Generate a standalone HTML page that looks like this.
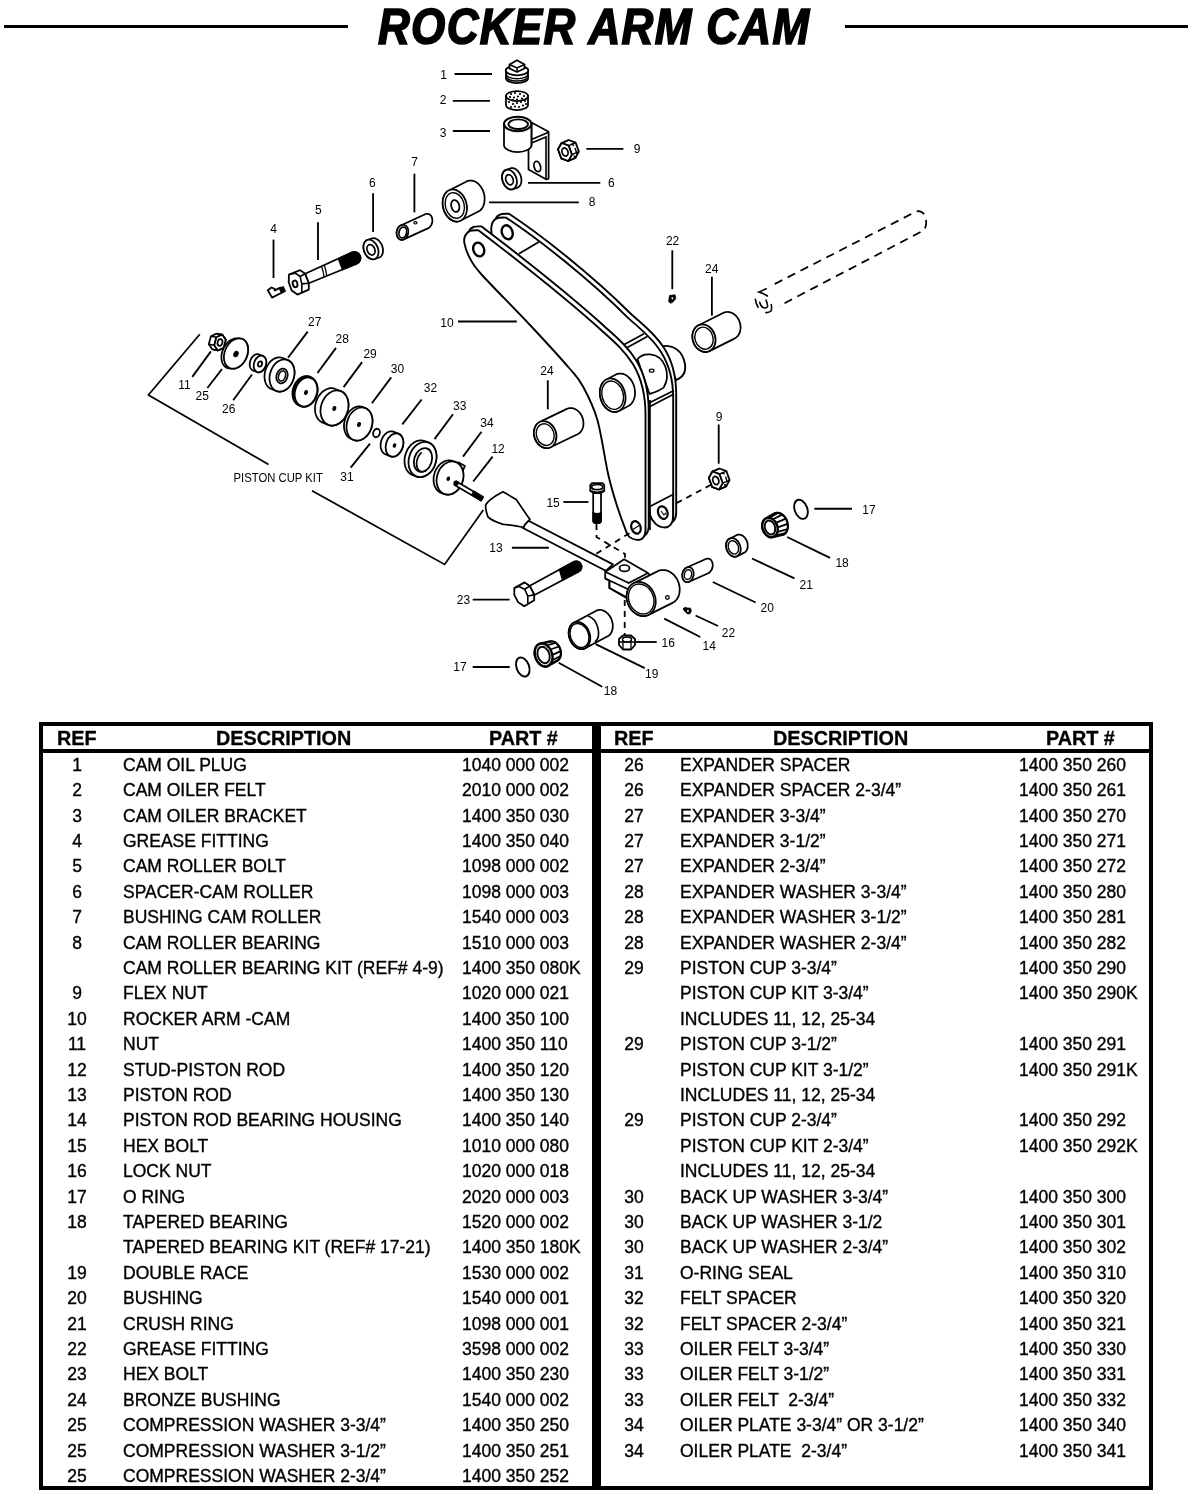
<!DOCTYPE html>
<html><head><meta charset="utf-8"><style>
html,body{margin:0;padding:0;background:#fff;}
body{will-change:transform;}
body{width:1194px;height:1500px;position:relative;overflow:hidden;font-family:"Liberation Sans",sans-serif;color:#000;}
.title{position:absolute;left:0;top:0;width:1194px;height:60px;}
.tl{position:absolute;height:3px;background:#000;top:25px;}
.tt{position:absolute;top:-2.5px;left:378px;font-weight:bold;font-style:italic;font-size:50px;white-space:nowrap;transform:scaleX(0.88);transform-origin:0 0;-webkit-text-stroke:1.7px #000;letter-spacing:1.5px;}
.box{position:absolute;left:39px;top:722px;width:1106px;height:760px;border:4px solid #000;}
.hl{position:absolute;left:39px;top:749px;width:1114px;height:4px;background:#000;}
.vl{position:absolute;left:591.7px;top:722px;width:9px;height:768px;background:#000;}
.h{position:absolute;top:726.5px;font-weight:bold;font-size:19.8px;white-space:nowrap;-webkit-text-stroke:0.3px #000;}
.r{position:absolute;left:0;height:25px;width:1194px;}
.r span{position:absolute;top:0;font-size:17.5px;white-space:nowrap;-webkit-text-stroke:0.35px #000;}
.ref{width:40px;margin-left:-20px;text-align:center;}
svg.dg{position:absolute;left:0;top:0;}
</style></head><body>
<div class="title">
<div class="tl" style="left:4px;width:344px"></div>
<div class="tl" style="left:845px;width:343px"></div>
<div class="tt">ROCKER ARM CAM</div>
</div>
<svg class="dg" width="1194" height="720" viewBox="0 0 1194 720" font-family="Liberation Sans, sans-serif" fill="#000">
<path d="M506,71 L506,78.5 A11,4.5 0 0 0 528,78.5 L528,71 Z" fill="#fff" stroke="#000" stroke-width="1.75"/>
<path d="M506,74.2 A11,4.5 0 0 0 528,74.2 M506,76.6 A11,4.5 0 0 0 528,76.6" fill="none" stroke="#000" stroke-width="1.5"/>
<ellipse cx="517.0" cy="70.5" rx="11.3" ry="4.8" fill="#fff" stroke="#000" stroke-width="1.75"/>
<path d="M509.5,64.5 L517,60.2 L524.5,64.5 L524.5,68.5 L517,72 L509.5,68.5 Z" fill="#fff" stroke="#000" stroke-width="1.8" stroke-linejoin="round"/>
<path d="M509.5,64.5 L517,68 L524.5,64.5 M517,68 L517,72" fill="none" stroke="#000" stroke-width="1.5"/>
<path d="M506,96 L506,105 A11,5 0 0 0 528,105 L528,96 Z" fill="#fff" stroke="#000" stroke-width="1.75"/>
<ellipse cx="517.0" cy="96.0" rx="11.0" ry="5.0" fill="#fff" stroke="#000" stroke-width="1.75"/>
<circle cx="511.0" cy="94.0" r="1.1" fill="#000"/>
<circle cx="515.0" cy="93.0" r="1.1" fill="#000"/>
<circle cx="520.0" cy="94.0" r="1.1" fill="#000"/>
<circle cx="524.0" cy="96.0" r="1.1" fill="#000"/>
<circle cx="510.0" cy="97.0" r="1.1" fill="#000"/>
<circle cx="514.0" cy="97.5" r="1.1" fill="#000"/>
<circle cx="518.0" cy="96.5" r="1.1" fill="#000"/>
<circle cx="522.0" cy="98.5" r="1.1" fill="#000"/>
<circle cx="513.0" cy="100.0" r="1.1" fill="#000"/>
<circle cx="517.0" cy="99.5" r="1.1" fill="#000"/>
<circle cx="509.0" cy="102.0" r="1.1" fill="#000"/>
<circle cx="513.0" cy="104.0" r="1.1" fill="#000"/>
<circle cx="517.0" cy="103.0" r="1.1" fill="#000"/>
<circle cx="521.0" cy="102.0" r="1.1" fill="#000"/>
<circle cx="525.0" cy="101.0" r="1.1" fill="#000"/>
<circle cx="511.0" cy="107.0" r="1.1" fill="#000"/>
<circle cx="515.0" cy="106.5" r="1.1" fill="#000"/>
<circle cx="519.0" cy="107.0" r="1.1" fill="#000"/>
<circle cx="523.0" cy="105.5" r="1.1" fill="#000"/>
<circle cx="526.0" cy="104.0" r="1.1" fill="#000"/>
<path d="M531.5,122.6 L548.6,131.8 L548.6,178.7 L546.5,179.5 L528.5,169.5 L528.5,149 L531.5,146 Z" fill="#fff" stroke="#000" stroke-width="1.75" stroke-linejoin="round"/>
<path d="M531.5,139.5 L548,132.5 M531.5,143 L546,137 L546,179" fill="none" stroke="#000" stroke-width="1.6"/>
<path d="M504,125 L504,145 A13.7,7 0 0 0 531.4,145 L531.4,125 Z" fill="#fff" stroke="#000" stroke-width="1.75"/>
<ellipse cx="517.7" cy="124.0" rx="13.7" ry="7.3" fill="#fff" stroke="#000" stroke-width="2.1"/>
<ellipse cx="518.2" cy="124.2" rx="9.8" ry="4.8" fill="#fff" stroke="#000" stroke-width="1.9"/>
<ellipse cx="537.3" cy="166.5" rx="3.2" ry="5.2" transform="rotate(-15 537.3 166.5)" fill="#fff" stroke="#000" stroke-width="1.8"/>
<path d="M558.1,149.4 L561.7,143.0 L568.7,140.0 L575.6,142.6 L578.9,151.6 L575.3,158.0 L568.3,161.0 L561.4,158.4 Z" fill="#fff" stroke="#000" stroke-width="1.75" stroke-linejoin="round" />
<path d="M568.3,161.0 L561.4,158.4 L558.1,149.4 L561.7,143.0 L568.6,145.6 L571.9,154.6 Z" fill="#fff" stroke="#000" stroke-width="1.75" stroke-linejoin="round" />
<line x1="568.3" y1="161.0" x2="575.3" y2="158.0" stroke="#000" stroke-width="1.4000000000000001"/>
<line x1="561.4" y1="158.4" x2="568.4" y2="155.4" stroke="#000" stroke-width="1.4000000000000001"/>
<line x1="558.1" y1="149.4" x2="565.1" y2="146.4" stroke="#000" stroke-width="1.4000000000000001"/>
<line x1="561.7" y1="143.0" x2="568.7" y2="140.0" stroke="#000" stroke-width="1.4000000000000001"/>
<line x1="568.6" y1="145.6" x2="575.6" y2="142.6" stroke="#000" stroke-width="1.4000000000000001"/>
<line x1="571.9" y1="154.6" x2="578.9" y2="151.6" stroke="#000" stroke-width="1.4000000000000001"/>
<path d="M568.3,161.0 L561.4,158.4 L558.1,149.4 L561.7,143.0 L568.6,145.6 L571.9,154.6 Z" fill="#fff" stroke="#000" stroke-width="1.75" stroke-linejoin="round" />
<ellipse cx="565.0" cy="152.0" rx="2.9" ry="4.2" transform="rotate(-20 565 152)" fill="#fff" stroke="#000" stroke-width="1.75"/>
<path d="M571,144 L574,145.5 M573.5,156 L576.5,157.5 M575,148 L577,154" fill="none" stroke="#000" stroke-width="1.4"/>
<path d="M502.1,177.1 L502.1,176.2 L502.2,175.3 L502.4,174.4 L502.6,173.6 L502.9,172.9 L503.3,172.2 L503.8,171.6 L504.3,171.0 L504.8,170.6 L505.4,170.2 L506.0,169.9 L510.5,168.4 L511.2,168.2 L511.9,168.1 L512.6,168.1 L513.3,168.2 L514.0,168.4 L514.8,168.7 L515.5,169.1 L516.2,169.5 L516.9,170.1 L517.5,170.7 L518.2,171.4 L518.7,172.1 L519.3,172.9 L519.8,173.8 L520.2,174.7 L520.6,175.6 L520.9,176.6 L521.1,177.5 L521.3,178.5 L521.4,179.5 L521.4,180.4 L521.4,181.3 L521.3,182.2 L521.1,183.1 L520.9,183.9 L520.6,184.6 L520.2,185.3 L519.7,185.9 L519.2,186.5 L518.7,186.9 L518.1,187.3 L517.5,187.6 L513.0,189.1 L512.3,189.3 L511.6,189.4 L510.9,189.4 L510.2,189.3 L509.5,189.1 L508.7,188.8 L508.0,188.4 L507.3,188.0 L506.6,187.4 L506.0,186.8 L505.3,186.1 L504.8,185.4 L504.2,184.6 L503.7,183.7 L503.3,182.8 L502.9,181.9 L502.6,180.9 L502.4,180.0 L502.2,179.0 L502.1,178.0 Z" fill="#fff" stroke="#000" stroke-width="1.75" stroke-linejoin="round" />
<ellipse cx="509.5" cy="179.5" rx="7.0" ry="10.2" transform="rotate(-20 509.5 179.5)" fill="#fff" stroke="#000" stroke-width="1.75"/>
<ellipse cx="509.5" cy="179.8" rx="3.6" ry="5.2" transform="rotate(-20 509.5 179.8)" fill="#fff" stroke="#000" stroke-width="1.75"/>
<path d="M442.7,202.3 L442.8,200.8 L443.0,199.3 L443.3,197.9 L443.8,196.5 L444.3,195.3 L445.0,194.1 L445.7,193.1 L446.5,192.1 L447.5,191.3 L448.4,190.7 L466.1,181.7 L467.2,181.1 L468.3,180.8 L469.4,180.5 L470.6,180.5 L471.8,180.5 L473.0,180.8 L474.2,181.2 L475.3,181.7 L476.5,182.4 L477.6,183.2 L478.6,184.2 L479.6,185.2 L480.6,186.4 L481.4,187.7 L482.2,189.0 L482.9,190.4 L483.4,191.9 L483.9,193.4 L484.3,195.0 L484.5,196.6 L484.6,198.1 L484.6,199.7 L484.5,201.2 L484.3,202.7 L484.0,204.1 L483.5,205.5 L483.0,206.7 L482.3,207.9 L481.6,208.9 L480.8,209.9 L479.8,210.7 L478.9,211.3 L461.2,220.3 L460.1,220.9 L459.0,221.2 L457.9,221.5 L456.7,221.5 L455.5,221.5 L454.3,221.2 L453.1,220.8 L452.0,220.3 L450.8,219.6 L449.7,218.8 L448.7,217.8 L447.7,216.8 L446.7,215.6 L445.9,214.3 L445.1,213.0 L444.4,211.6 L443.9,210.1 L443.4,208.6 L443.0,207.0 L442.8,205.4 L442.7,203.9 Z" fill="#fff" stroke="#000" stroke-width="1.75" stroke-linejoin="round" />
<ellipse cx="454.8" cy="205.5" rx="11.8" ry="16.3" transform="rotate(-15 454.8 205.5)" fill="#fff" stroke="#000" stroke-width="1.75"/>
<ellipse cx="454.8" cy="205.5" rx="9.4" ry="13.0" transform="rotate(-15 454.8 205.5)" fill="#fff" stroke="#000" stroke-width="1.4000000000000001"/>
<ellipse cx="455.3" cy="206.0" rx="4.0" ry="6.0" transform="rotate(-15 455.3 206.0)" fill="#fff" stroke="#000" stroke-width="1.75"/>
<path d="M267.8,290.2 L271.5,287.5 L274.7,288.8 L274.7,290.4 L280.5,287.6 L284.6,291.2 L272,297.6 Z" fill="#fff" stroke="#000" stroke-width="1.8" stroke-linejoin="round"/>
<path d="M279.5,288.2 L283.2,287 L285,291 L281.5,292.8 Z" fill="#000" stroke="#000" stroke-width="1.5"/>
<path d="M305.1,273.8 L352,252.4 A5.6,5.6 0 0 1 356.7,263.8 L308.8,283.2 Z" fill="#fff" stroke="#000" stroke-width="1.75" stroke-linejoin="round"/>
<path d="M338.4,258.6 L352,252.4 A5.6,5.6 0 0 1 356.7,263.8 L342.5,269.6 Z" fill="#000" stroke="#000" stroke-width="1.5"/>
<path d="M321.5,266.5 Q323.5,271 324,277 M324.2,265.3 Q326.2,270 326.7,276" fill="none" stroke="#000" stroke-width="1.3"/>
<path d="M289,274.5 L300.1,270.1 L305.1,273.8 L308.8,283.2 L308.8,289.6 L297.4,294.6 L291.7,290.6 L288.7,282.2 Z" fill="#fff" stroke="#000" stroke-width="1.8" stroke-linejoin="round"/>
<path d="M289,274.5 L295.4,273.1 L300.1,276.5 L301.8,283.9 L301.8,292.5 M300.1,276.5 L305.1,273.8 M301.8,283.9 L308.8,283.2" fill="none" stroke="#000" stroke-width="1.6" stroke-linejoin="round"/>
<ellipse cx="295.1" cy="283.9" rx="2.3" ry="3.4" transform="rotate(-15 295.1 283.9)" fill="#fff" stroke="#000" stroke-width="1.9"/>
<path d="M363.5,247.4 L363.5,246.4 L363.6,245.5 L363.7,244.7 L363.9,243.9 L364.2,243.1 L364.6,242.4 L365.0,241.8 L365.5,241.2 L366.0,240.7 L366.6,240.3 L367.2,240.0 L371.7,238.5 L372.3,238.3 L373.0,238.2 L373.7,238.2 L374.5,238.3 L375.2,238.4 L375.9,238.7 L376.7,239.0 L377.4,239.5 L378.1,240.0 L378.8,240.6 L379.4,241.2 L380.0,242.0 L380.6,242.7 L381.1,243.6 L381.6,244.5 L382.0,245.4 L382.3,246.3 L382.6,247.3 L382.8,248.2 L383.0,249.2 L383.0,250.1 L383.0,251.1 L382.9,252.0 L382.8,252.8 L382.6,253.6 L382.3,254.4 L381.9,255.1 L381.5,255.7 L381.0,256.3 L380.5,256.8 L379.9,257.2 L379.3,257.5 L374.8,259.0 L374.2,259.2 L373.5,259.3 L372.8,259.3 L372.0,259.2 L371.3,259.1 L370.6,258.8 L369.8,258.5 L369.1,258.0 L368.4,257.5 L367.7,256.9 L367.1,256.3 L366.5,255.5 L365.9,254.8 L365.4,253.9 L364.9,253.0 L364.5,252.1 L364.2,251.2 L363.9,250.2 L363.7,249.3 L363.5,248.3 Z" fill="#fff" stroke="#000" stroke-width="1.75" stroke-linejoin="round" />
<ellipse cx="371.0" cy="249.5" rx="7.0" ry="10.2" transform="rotate(-22 371 249.5)" fill="#fff" stroke="#000" stroke-width="1.75"/>
<ellipse cx="371.0" cy="249.8" rx="3.8" ry="5.4" transform="rotate(-22 371 249.8)" fill="#fff" stroke="#000" stroke-width="1.75"/>
<path d="M396.6,233.3 L396.6,232.6 L396.7,231.8 L396.8,231.1 L397.0,230.4 L397.2,229.7 L397.5,229.0 L397.9,228.3 L398.2,227.7 L398.7,227.2 L399.1,226.7 L399.6,226.2 L400.1,225.8 L400.7,225.4 L401.2,225.2 L425.2,214.2 L425.8,214.0 L426.4,213.8 L426.9,213.8 L427.5,213.8 L428.1,213.9 L428.6,214.0 L429.2,214.2 L429.7,214.5 L430.1,214.9 L430.6,215.3 L431.0,215.8 L431.3,216.3 L431.6,216.9 L431.9,217.5 L432.1,218.2 L432.2,218.9 L432.3,219.6 L432.4,220.3 L432.4,221.0 L432.3,221.8 L432.2,222.5 L432.0,223.2 L431.8,223.9 L431.5,224.6 L431.1,225.3 L430.8,225.9 L430.3,226.4 L429.9,226.9 L429.4,227.4 L428.9,227.8 L428.3,228.2 L427.8,228.4 L403.8,239.4 L403.2,239.6 L402.6,239.8 L402.1,239.8 L401.5,239.8 L400.9,239.7 L400.4,239.6 L399.8,239.4 L399.3,239.1 L398.9,238.7 L398.4,238.3 L398.0,237.8 L397.7,237.3 L397.4,236.7 L397.1,236.1 L396.9,235.4 L396.8,234.7 L396.7,234.0 Z" fill="#fff" stroke="#000" stroke-width="1.75" stroke-linejoin="round" />
<ellipse cx="402.5" cy="232.3" rx="5.8" ry="7.6" transform="rotate(12 402.5 232.3)" fill="#fff" stroke="#000" stroke-width="1.75"/>
<ellipse cx="402.8" cy="232.5" rx="3.8" ry="5.5" transform="rotate(12 402.8 232.5)" fill="#fff" stroke="#000" stroke-width="1.75"/>
<ellipse cx="415.4" cy="222.8" rx="1.6" ry="1.2" fill="none" stroke="#000" stroke-width="1.2"/>
<path d="M660,347 C668,344 680,347 684,360 C687,370 684,377 676,380 Z" fill="#fff" stroke="#000" stroke-width="1.9" stroke-linejoin="round" />
<path d="M493,240 C491,234 491,229 491.6,225.5 C492.5,221 495,218.5 499,217.8 C501.5,217.4 503.5,217.4 506,217.6 C540,240 590,280 627,316.8 C645,334 673.2,350 673.2,398 L673.2,516 C673.2,524 669,527.5 665,527.5 C658,527.5 652,522 650,515 L645,470 L600,400 L520,280 Z" transform="translate(3,-3.8)" fill="#fff" stroke="#000" stroke-width="1.9" stroke-linejoin="round" />
<path d="M493,240 C491,234 491,229 491.6,225.5 C492.5,221 495,218.5 499,217.8 C501.5,217.4 503.5,217.4 506,217.6 C540,240 590,280 627,316.8 C645,334 673.2,350 673.2,398 L673.2,516 C673.2,524 669,527.5 665,527.5 C658,527.5 652,522 650,515 L645,470 L600,400 L520,280 Z" fill="#fff" stroke="#000" stroke-width="1.9" stroke-linejoin="round" />
<ellipse cx="507.2" cy="232.3" rx="5.3" ry="7.2" transform="rotate(-20 507.2 232.3)" fill="#fff" stroke="#000" stroke-width="2.4"/>
<path d="M518.9,253.7 L538.8,242" fill="none" stroke="#000" stroke-width="1.8"/>
<path d="M623.3,345.1 L644,333.7 M625.5,348.4 L647.3,336.4" fill="none" stroke="#000" stroke-width="1.7"/>
<path d="M637.5,359.3 C640,356 645,354 650,354.4 C658,355 663,360 665.5,367 C668,374 667,382 663.6,387.6 C659,391 654,392.5 649.5,394 Z" fill="#fff" stroke="#000" stroke-width="1.8" stroke-linejoin="round" />
<ellipse cx="651.7" cy="370.7" rx="2.3" ry="1.5" fill="none" stroke="#000" stroke-width="1.3"/>
<path d="M649.5,402.8 L674,390.5 M650,406.5 L674,394" fill="none" stroke="#000" stroke-width="1.7"/>
<path d="M649.9,506.6 L674,494" fill="none" stroke="#000" stroke-width="1.7"/>
<path d="M673,494 L673,520" fill="none" stroke="#000" stroke-width="1.3"/>
<ellipse cx="662.8" cy="512.6" rx="4.6" ry="6.5" transform="rotate(-20 662.8 512.6)" fill="#fff" stroke="#000" stroke-width="2.2"/>
<path d="M661,511 L664,515 L666,513" fill="none" stroke="#000" stroke-width="1.1"/>
<path d="M478.4,230.2 C520,262 560,293 600,329 C622,349 645.5,366 645.5,415 L645.5,530 C645.5,537 642,540 638.5,540 C633,540 628.5,537 626.9,533.4  C625.4,529.1 620.7,517.3 617.6,507.6 C614.5,497.9 611.8,489.9 608.4,475.3 C605.0,460.7 601.6,434.8 597.4,420.0 C593.2,405.2 587.6,395.0 583.0,386.5 C578.4,378.0 578.8,379.2 570.0,369.0 C561.2,358.8 544.7,340.7 530.0,325.0 C515.3,309.3 492.1,286.2 482.0,275.0 C471.9,263.8 472.6,263.1 469.7,257.8 C466.8,252.5 465.1,246.8 464.4,243.1 C463.7,239.4 464.3,237.6 465.3,235.5 C466.3,233.4 468.0,231.7 470.2,230.8 C472.4,229.9 477.0,230.3 478.4,230.2 Z" transform="translate(3.2,-3.8)" fill="#fff" stroke="#000" stroke-width="1.9" stroke-linejoin="round" />
<path d="M649.5,400 L649.5,530" fill="none" stroke="#000" stroke-width="2.6"/>
<path d="M478.4,230.2 C520,262 560,293 600,329 C622,349 645.5,366 645.5,415 L645.5,530 C645.5,537 642,540 638.5,540 C633,540 628.5,537 626.9,533.4  C625.4,529.1 620.7,517.3 617.6,507.6 C614.5,497.9 611.8,489.9 608.4,475.3 C605.0,460.7 601.6,434.8 597.4,420.0 C593.2,405.2 587.6,395.0 583.0,386.5 C578.4,378.0 578.8,379.2 570.0,369.0 C561.2,358.8 544.7,340.7 530.0,325.0 C515.3,309.3 492.1,286.2 482.0,275.0 C471.9,263.8 472.6,263.1 469.7,257.8 C466.8,252.5 465.1,246.8 464.4,243.1 C463.7,239.4 464.3,237.6 465.3,235.5 C466.3,233.4 468.0,231.7 470.2,230.8 C472.4,229.9 477.0,230.3 478.4,230.2 Z" fill="#fff" stroke="#000" stroke-width="1.9" stroke-linejoin="round" />
<ellipse cx="478.7" cy="249.5" rx="5.3" ry="7.0" transform="rotate(-20 478.7 249.5)" fill="#fff" stroke="#000" stroke-width="2.4"/>
<ellipse cx="636.0" cy="527.4" rx="4.6" ry="6.4" transform="rotate(-20 636 527.4)" fill="#fff" stroke="#000" stroke-width="2.2"/>
<path d="M632,530 L640,525" fill="none" stroke="#000" stroke-width="1.1"/>
<path d="M599.9,391.9 L600.0,390.3 L600.2,388.8 L600.6,387.3 L601.1,385.9 L601.6,384.6 L602.3,383.3 L603.1,382.2 L604.0,381.3 L605.0,380.4 L606.0,379.7 L615.5,374.7 L616.6,374.2 L617.8,373.8 L619.0,373.5 L620.2,373.5 L621.5,373.5 L622.8,373.8 L624.0,374.2 L625.2,374.7 L626.5,375.5 L627.6,376.3 L628.7,377.3 L629.8,378.4 L630.8,379.6 L631.7,380.9 L632.5,382.3 L633.2,383.8 L633.8,385.4 L634.3,387.0 L634.6,388.6 L634.9,390.2 L635.0,391.9 L635.0,393.5 L634.9,395.1 L634.7,396.6 L634.3,398.1 L633.8,399.5 L633.3,400.8 L632.6,402.1 L631.8,403.2 L630.9,404.1 L629.9,405.0 L628.9,405.7 L619.4,410.7 L618.3,411.2 L617.1,411.6 L615.9,411.9 L614.7,411.9 L613.4,411.9 L612.1,411.6 L610.9,411.2 L609.6,410.7 L608.4,409.9 L607.3,409.1 L606.2,408.1 L605.1,407.0 L604.1,405.8 L603.2,404.5 L602.4,403.1 L601.7,401.6 L601.1,400.0 L600.6,398.4 L600.3,396.8 L600.0,395.2 L599.9,393.5 Z" fill="#fff" stroke="#000" stroke-width="1.75" stroke-linejoin="round" />
<ellipse cx="612.7" cy="395.2" rx="12.5" ry="17.0" transform="rotate(-15 612.7 395.2)" fill="#fff" stroke="#000" stroke-width="1.75"/>
<ellipse cx="612.7" cy="395.2" rx="10.6" ry="14.4" transform="rotate(-15 612.7 395.2)" fill="#fff" stroke="#000" stroke-width="1.4000000000000001"/>
<path d="M669.5,295.5 L675,294.8 L675.8,298.5 L673,302 L670.5,303.3 L668.6,301.5 Z" fill="#000" stroke="#000" stroke-width="0.8" stroke-linejoin="round"/>
<circle cx="672.4" cy="298.2" r="0.95" fill="#fff"/>
<path d="M692.4,336.3 L692.5,335.0 L692.7,333.7 L692.9,332.5 L693.3,331.3 L693.8,330.1 L694.4,329.1 L695.1,328.1 L695.9,327.2 L696.7,326.5 L697.7,325.8 L698.6,325.3 L723.6,312.8 L724.7,312.4 L725.7,312.1 L726.9,312.0 L728.0,311.9 L729.1,312.1 L730.3,312.3 L731.4,312.7 L732.5,313.2 L733.5,313.8 L734.6,314.6 L735.5,315.4 L736.4,316.3 L737.3,317.4 L738.0,318.5 L738.7,319.7 L739.3,320.9 L739.7,322.2 L740.1,323.5 L740.4,324.9 L740.5,326.2 L740.6,327.6 L740.5,328.9 L740.3,330.2 L740.1,331.4 L739.7,332.6 L739.2,333.8 L738.6,334.8 L737.9,335.8 L737.1,336.7 L736.3,337.4 L735.3,338.1 L734.4,338.6 L709.4,351.1 L708.3,351.5 L707.3,351.8 L706.1,351.9 L705.0,352.0 L703.9,351.8 L702.7,351.6 L701.6,351.2 L700.5,350.7 L699.5,350.1 L698.4,349.3 L697.5,348.5 L696.6,347.6 L695.7,346.5 L695.0,345.4 L694.3,344.2 L693.7,343.0 L693.3,341.7 L692.9,340.4 L692.6,339.0 L692.5,337.7 Z" fill="#fff" stroke="#000" stroke-width="1.75" stroke-linejoin="round" />
<ellipse cx="704.0" cy="338.2" rx="11.3" ry="14.0" transform="rotate(-18 704 338.2)" fill="#fff" stroke="#000" stroke-width="1.75"/>
<ellipse cx="704.0" cy="338.2" rx="9.0" ry="11.2" transform="rotate(-18 704 338.2)" fill="#fff" stroke="#000" stroke-width="1.4000000000000001"/>
<path d="M774.7,284 L916.4,211.4 C925,209 929,222 924,230.2 L779.1,306.1" fill="none" stroke="#000" stroke-width="1.75" stroke-dasharray="8.5,6"/>
<path d="M766.2,288.8 L758.8,292 Q764,293.5 767.4,296 M755.4,299.4 Q756,304 758.1,307.3 M759.7,302.2 Q761,307.5 764.8,308 Q768.5,307.5 767.4,305 Q767,302 766,300.1 M771.3,304.5 Q772,309 771,311 Q769,312.8 766,312.6" fill="none" stroke="#000" stroke-width="1.6" stroke-linecap="round"/>
<path d="M533.9,432.7 L534.0,431.4 L534.1,430.1 L534.4,428.9 L534.8,427.7 L535.3,426.6 L535.8,425.6 L536.5,424.6 L537.3,423.8 L538.1,423.0 L539.0,422.4 L539.9,421.9 L566.9,408.9 L567.9,408.5 L569.0,408.2 L570.1,408.1 L571.2,408.1 L572.3,408.2 L573.4,408.4 L574.5,408.8 L575.5,409.3 L576.6,409.9 L577.6,410.6 L578.5,411.5 L579.4,412.4 L580.2,413.4 L581.0,414.5 L581.6,415.7 L582.2,416.9 L582.7,418.2 L583.0,419.5 L583.3,420.8 L583.4,422.2 L583.5,423.5 L583.4,424.8 L583.3,426.1 L583.0,427.3 L582.6,428.5 L582.1,429.6 L581.6,430.6 L580.9,431.6 L580.1,432.4 L579.3,433.2 L578.4,433.8 L577.5,434.3 L550.5,447.3 L549.5,447.7 L548.4,448.0 L547.3,448.1 L546.2,448.1 L545.1,448.0 L544.0,447.8 L542.9,447.4 L541.9,446.9 L540.8,446.3 L539.8,445.6 L538.9,444.7 L538.0,443.8 L537.2,442.8 L536.4,441.7 L535.8,440.5 L535.2,439.3 L534.7,438.0 L534.4,436.7 L534.1,435.4 L534.0,434.0 Z" fill="#fff" stroke="#000" stroke-width="1.75" stroke-linejoin="round" />
<ellipse cx="545.2" cy="434.6" rx="11.0" ry="13.8" transform="rotate(-18 545.2 434.6)" fill="#fff" stroke="#000" stroke-width="1.75"/>
<ellipse cx="545.2" cy="434.6" rx="8.8" ry="11.0" transform="rotate(-18 545.2 434.6)" fill="#fff" stroke="#000" stroke-width="1.4000000000000001"/>
<path d="M709.0,477.9 L712.5,471.5 L719.5,468.5 L726.4,471.1 L729.6,480.1 L726.1,486.5 L719.1,489.5 L712.2,486.9 Z" fill="#fff" stroke="#000" stroke-width="1.75" stroke-linejoin="round" />
<path d="M719.1,489.5 L712.2,486.9 L708.9,477.9 L712.5,471.5 L719.4,474.1 L722.7,483.1 Z" fill="#fff" stroke="#000" stroke-width="1.75" stroke-linejoin="round" />
<line x1="719.1" y1="489.5" x2="726.1" y2="486.5" stroke="#000" stroke-width="1.4000000000000001"/>
<line x1="712.2" y1="486.9" x2="719.2" y2="483.9" stroke="#000" stroke-width="1.4000000000000001"/>
<line x1="708.9" y1="477.9" x2="715.9" y2="474.9" stroke="#000" stroke-width="1.4000000000000001"/>
<line x1="712.5" y1="471.5" x2="719.5" y2="468.5" stroke="#000" stroke-width="1.4000000000000001"/>
<line x1="719.4" y1="474.1" x2="726.4" y2="471.1" stroke="#000" stroke-width="1.4000000000000001"/>
<line x1="722.7" y1="483.1" x2="729.7" y2="480.1" stroke="#000" stroke-width="1.4000000000000001"/>
<path d="M719.1,489.5 L712.2,486.9 L708.9,477.9 L712.5,471.5 L719.4,474.1 L722.7,483.1 Z" fill="#fff" stroke="#000" stroke-width="1.75" stroke-linejoin="round" />
<ellipse cx="715.8" cy="480.5" rx="2.9" ry="4.2" transform="rotate(-20 715.8 480.5)" fill="#fff" stroke="#000" stroke-width="1.75"/>
<path d="M721.5,472.5 L724.5,474 M724,484.5 L727,486 M725.5,476.5 L727.5,482.5" fill="none" stroke="#000" stroke-width="1.4"/>
<path d="M593.2,492 L593.2,521 Q593.2,523.2 597,523.2 Q601,523.2 601,521 L601,492 Z" fill="#fff" stroke="#000" stroke-width="1.75" stroke-linejoin="round"/>
<path d="M593.2,513 Q597,514.5 601,513 L601,521 Q601,523.2 597,523.2 Q593.2,523.2 593.2,521 Z" fill="#000" stroke="#000" stroke-width="1.6"/>
<path d="M590.3,485 L592,483.2 L602.5,483.2 L604.2,485 L604.2,491 L601,493 L593.5,493 L590.3,491 Z" fill="#fff" stroke="#000" stroke-width="1.8" stroke-linejoin="round"/>
<ellipse cx="597.2" cy="487.0" rx="5.6" ry="2.7" fill="#fff" stroke="#000" stroke-width="1.8"/>
<path d="M591,490.5 Q597,493.5 603.5,490.5" fill="none" stroke="#000" stroke-width="1.2"/>
<line x1="711.0" y1="484.8" x2="676.9" y2="502.9" stroke="#000" stroke-width="1.8" stroke-dasharray="6,5"/>
<path d="M596.5,524 L596.5,537 L625,554 L625,561" fill="none" stroke="#000" stroke-width="1.8" stroke-dasharray="6,5"/>
<line x1="629.5" y1="533.2" x2="584.5" y2="561.0" stroke="#000" stroke-width="1.8" stroke-dasharray="6,5"/>
<line x1="624.7" y1="600.0" x2="624.7" y2="635.5" stroke="#000" stroke-width="1.8" stroke-dasharray="6,5"/>
<path d="M527,520 L613,564.4 L605.7,570.8 L522,527.5 Z" fill="#fff" stroke="#000" stroke-width="1.75" stroke-linejoin="round"/>
<path d="M503,491.8 L516.2,499.4 C521,506 525,513 530,519.5 C527,522 524,525 523.8,527.5 C518,526 510,525 503.2,524.4 C496,522 491,520 487.9,516.8 C486,512 485.5,508 485.7,504.8 C488,501 491,498 503,491.8 Z" fill="#fff" stroke="#000" stroke-width="1.75" stroke-linejoin="round"/>
<path d="M605.2,571.7 L611.2,568 L624.1,559.3 L648,573.1 L660,590 L630,600 L609.4,588 L609.4,580.5 L605.2,578.6 Z" fill="#fff" stroke="#000" stroke-width="1.75" stroke-linejoin="round"/>
<path d="M605.2,571.7 L628.7,583 L648,573.1 M605.2,578.6 L628.7,589.5 M609.4,580.5 L609.4,588 L628,598" fill="none" stroke="#000" stroke-width="1.7"/>
<ellipse cx="624.5" cy="568.2" rx="5.0" ry="3.2" fill="#fff" stroke="#000" stroke-width="1.7"/>
<path d="M626.7,596.0 L626.8,594.3 L627.0,592.8 L627.4,591.2 L627.9,589.8 L628.5,588.4 L629.3,587.2 L630.2,586.0 L631.2,585.0 L632.2,584.1 L633.4,583.4 L657.4,571.4 L658.6,570.8 L659.9,570.3 L661.3,570.1 L662.7,570.0 L664.1,570.0 L665.5,570.2 L667.0,570.6 L668.4,571.1 L669.7,571.8 L671.1,572.7 L672.4,573.6 L673.6,574.7 L674.7,575.9 L675.7,577.3 L676.7,578.7 L677.5,580.2 L678.2,581.8 L678.8,583.4 L679.2,585.0 L679.5,586.7 L679.7,588.4 L679.7,590.0 L679.6,591.7 L679.4,593.2 L679.0,594.8 L678.5,596.2 L677.9,597.6 L677.1,598.8 L676.2,600.0 L675.2,601.0 L674.2,601.9 L673.0,602.6 L649.0,614.6 L647.8,615.2 L646.5,615.7 L645.1,615.9 L643.7,616.0 L642.3,616.0 L640.9,615.8 L639.4,615.4 L638.0,614.9 L636.7,614.2 L635.3,613.3 L634.0,612.4 L632.8,611.3 L631.7,610.1 L630.7,608.7 L629.7,607.3 L628.9,605.8 L628.2,604.2 L627.6,602.6 L627.2,601.0 L626.9,599.3 L626.7,597.6 Z" fill="#fff" stroke="#000" stroke-width="1.75" stroke-linejoin="round" />
<ellipse cx="641.2" cy="599.0" rx="14.0" ry="17.5" transform="rotate(-22 641.2 599)" fill="#fff" stroke="#000" stroke-width="1.75"/>
<ellipse cx="641.2" cy="599.0" rx="12.3" ry="15.4" transform="rotate(-22 641.2 599)" fill="#fff" stroke="#000" stroke-width="1.4000000000000001"/>
<circle cx="667.4" cy="597.5" r="1.8" fill="none" stroke="#000" stroke-width="1.3"/>
<path d="M529.5,586 L573.3,562.1 A5,5 0 0 1 579,571.4 L534.5,595 Z" fill="#fff" stroke="#000" stroke-width="1.75" stroke-linejoin="round"/>
<path d="M559.5,569.6 L573.3,562.1 A5,5 0 0 1 579,571.4 L562.5,579.6 Z" fill="#000" stroke="#000" stroke-width="1.5"/>
<path d="M514.3,588.1 L524.6,582.4 L529.9,586 L534.2,594.9 L534.2,600.2 L524.2,606.2 L518.2,602.3 L514.3,594.9 Z" fill="#fff" stroke="#000" stroke-width="1.8" stroke-linejoin="round"/>
<path d="M514.3,588.1 L519,586.5 L524.6,589.2 L527.8,596 L527.8,603.4 M524.6,589.2 L529.9,586 M527.8,596 L534.2,594.9" fill="none" stroke="#000" stroke-width="1.6" stroke-linejoin="round"/>
<path d="M568.7,632.4 L568.8,631.1 L569.0,629.9 L569.3,628.7 L569.7,627.6 L570.1,626.5 L570.7,625.6 L571.4,624.7 L572.1,623.9 L572.9,623.3 L573.8,622.8 L596.3,610.8 L597.2,610.3 L598.2,610.1 L599.2,609.9 L600.2,609.9 L601.3,610.0 L602.3,610.2 L603.4,610.6 L604.4,611.1 L605.5,611.7 L606.4,612.4 L607.4,613.3 L608.3,614.2 L609.1,615.2 L609.9,616.3 L610.6,617.5 L611.2,618.7 L611.7,620.0 L612.1,621.3 L612.4,622.6 L612.7,623.9 L612.8,625.3 L612.8,626.6 L612.7,627.9 L612.5,629.1 L612.2,630.3 L611.8,631.4 L611.4,632.5 L610.8,633.4 L610.1,634.3 L609.4,635.1 L608.6,635.7 L607.7,636.2 L585.2,648.2 L584.3,648.7 L583.3,648.9 L582.3,649.1 L581.3,649.1 L580.2,649.0 L579.2,648.8 L578.1,648.4 L577.1,647.9 L576.0,647.3 L575.1,646.6 L574.1,645.7 L573.2,644.8 L572.4,643.8 L571.6,642.7 L570.9,641.5 L570.3,640.3 L569.8,639.0 L569.4,637.7 L569.1,636.4 L568.8,635.1 L568.7,633.7 Z" fill="#fff" stroke="#000" stroke-width="1.75" stroke-linejoin="round" />
<ellipse cx="579.5" cy="635.5" rx="10.3" ry="14.0" transform="rotate(-20 579.5 635.5)" fill="#fff" stroke="#000" stroke-width="1.75"/>
<ellipse cx="579.5" cy="635.5" rx="9.1" ry="12.3" transform="rotate(-20 579.5 635.5)" fill="#fff" stroke="#000" stroke-width="1.4000000000000001"/>
<path d="M588,616 C598,619 602,636 595,642" fill="none" stroke="#000" stroke-width="1.7"/>
<path d="M619,639 L623,635.5 L631,635.5 L635,639 L635,645 L631,649.5 L623,649.5 L619,645 Z" fill="#fff" stroke="#000" stroke-width="1.8" stroke-linejoin="round"/>
<ellipse cx="627" cy="639.5" rx="4.5" ry="2.5" fill="none" stroke="#000" stroke-width="1.5"/>
<path d="M619,642 L635,642 M623,642 L623,649 M631,642 L631,649" fill="none" stroke="#000" stroke-width="1.3"/>
<ellipse cx="522.8" cy="667.0" rx="6.3" ry="9.9" transform="rotate(-20 522.8 667)" fill="#fff" stroke="#000" stroke-width="1.9"/>
<path d="M534.7,652.3 L534.7,651.3 L534.9,650.2 L535.1,649.2 L535.4,648.3 L535.8,647.4 L536.3,646.6 L536.8,645.9 L537.4,645.2 L538.1,644.7 L538.8,644.2 L539.6,643.9 L540.4,643.7 L549.8,641.4 L550.5,641.3 L551.3,641.3 L552.2,641.3 L553.0,641.5 L553.8,641.8 L554.6,642.1 L555.4,642.6 L556.1,643.1 L556.9,643.7 L557.5,644.4 L558.2,645.2 L558.8,646.0 L559.3,646.9 L559.7,647.8 L560.1,648.8 L560.4,649.7 L560.7,650.7 L560.8,651.7 L560.9,652.7 L560.9,653.7 L560.8,654.7 L560.7,655.6 L560.5,656.5 L560.1,657.4 L559.8,658.2 L559.3,658.9 L558.8,659.6 L558.2,660.1 L557.6,660.6 L556.9,661.1 L548.4,665.8 L547.6,666.1 L546.8,666.3 L546.0,666.4 L545.1,666.5 L544.3,666.4 L543.4,666.1 L542.5,665.8 L541.7,665.4 L540.8,664.9 L540.0,664.3 L539.2,663.6 L538.5,662.8 L537.8,661.9 L537.1,661.0 L536.6,660.0 L536.0,659.0 L535.6,657.9 L535.3,656.8 L535.0,655.7 L534.8,654.6 L534.7,653.4 Z" fill="#fff" stroke="#000" stroke-width="2.3" stroke-linejoin="round" />
<line x1="542.5" y1="643.6" x2="551.8" y2="641.3" stroke="#000" stroke-width="1.8"/>
<line x1="546.8" y1="645.4" x2="555.8" y2="642.9" stroke="#000" stroke-width="1.8"/>
<line x1="550.4" y1="649.5" x2="559.0" y2="646.5" stroke="#000" stroke-width="1.8"/>
<line x1="552.3" y1="654.9" x2="560.8" y2="651.2" stroke="#000" stroke-width="1.8"/>
<line x1="552.2" y1="660.3" x2="560.6" y2="656.1" stroke="#000" stroke-width="1.8"/>
<line x1="550.1" y1="664.4" x2="558.5" y2="659.8" stroke="#000" stroke-width="1.8"/>
<ellipse cx="543.6" cy="655.0" rx="8.5" ry="11.8" transform="rotate(-20 543.6 655)" fill="#fff" stroke="#000" stroke-width="2.4"/>
<ellipse cx="543.6" cy="655.0" rx="5.8" ry="8.5" transform="rotate(-20 543.6 655)" fill="#fff" stroke="#000" stroke-width="1.9"/>
<path d="M682.3,575.6 L682.3,574.9 L682.4,574.2 L682.5,573.4 L682.7,572.7 L682.9,572.0 L683.2,571.3 L683.5,570.7 L683.9,570.1 L684.3,569.5 L684.8,569.0 L685.2,568.5 L685.7,568.1 L686.3,567.8 L686.8,567.5 L705.8,559.0 L706.4,558.8 L706.9,558.6 L707.5,558.6 L708.0,558.6 L708.6,558.7 L709.1,558.8 L709.6,559.0 L710.1,559.3 L710.6,559.7 L711.0,560.1 L711.4,560.6 L711.7,561.1 L712.0,561.7 L712.2,562.3 L712.4,562.9 L712.6,563.6 L712.7,564.3 L712.7,565.1 L712.7,565.8 L712.6,566.5 L712.5,567.3 L712.3,568.0 L712.1,568.7 L711.8,569.4 L711.5,570.0 L711.1,570.6 L710.7,571.2 L710.2,571.7 L709.8,572.2 L709.3,572.6 L708.7,572.9 L708.2,573.2 L689.2,581.7 L688.6,581.9 L688.1,582.1 L687.5,582.1 L687.0,582.1 L686.4,582.0 L685.9,581.9 L685.4,581.7 L684.9,581.4 L684.4,581.0 L684.0,580.6 L683.6,580.1 L683.3,579.6 L683.0,579.0 L682.8,578.4 L682.6,577.8 L682.4,577.1 L682.3,576.4 Z" fill="#fff" stroke="#000" stroke-width="1.75" stroke-linejoin="round" />
<ellipse cx="688.0" cy="574.6" rx="5.6" ry="7.6" transform="rotate(12 688 574.6)" fill="#fff" stroke="#000" stroke-width="1.75"/>
<ellipse cx="688.0" cy="574.6" rx="3.6" ry="4.9" transform="rotate(12 688 574.6)" fill="#fff" stroke="#000" stroke-width="1.4000000000000001"/>
<path d="M726.1,545.3 L726.1,544.4 L726.2,543.5 L726.4,542.7 L726.7,541.9 L727.0,541.2 L727.4,540.6 L727.8,540.0 L728.3,539.5 L728.9,539.0 L729.5,538.7 L736.5,535.2 L737.1,534.9 L737.8,534.7 L738.5,534.6 L739.2,534.6 L739.9,534.6 L740.6,534.8 L741.3,535.1 L742.0,535.4 L742.7,535.8 L743.4,536.3 L744.0,536.9 L744.7,537.5 L745.2,538.2 L745.7,539.0 L746.2,539.8 L746.6,540.6 L747.0,541.5 L747.3,542.4 L747.5,543.3 L747.6,544.2 L747.7,545.1 L747.7,546.0 L747.7,546.9 L747.6,547.8 L747.4,548.6 L747.1,549.4 L746.8,550.1 L746.4,550.7 L746.0,551.3 L745.5,551.8 L744.9,552.3 L744.3,552.6 L737.3,556.1 L736.7,556.4 L736.0,556.6 L735.3,556.7 L734.6,556.7 L733.9,556.7 L733.2,556.5 L732.5,556.2 L731.8,555.9 L731.1,555.5 L730.4,555.0 L729.8,554.4 L729.1,553.8 L728.6,553.1 L728.1,552.3 L727.6,551.5 L727.2,550.7 L726.8,549.8 L726.5,548.9 L726.3,548.0 L726.2,547.1 L726.1,546.2 Z" fill="#fff" stroke="#000" stroke-width="1.75" stroke-linejoin="round" />
<ellipse cx="733.4" cy="547.4" rx="7.0" ry="9.6" transform="rotate(-20 733.4 547.4)" fill="#fff" stroke="#000" stroke-width="1.75"/>
<ellipse cx="733.4" cy="547.4" rx="5.0" ry="6.9" transform="rotate(-20 733.4 547.4)" fill="#fff" stroke="#000" stroke-width="1.4000000000000001"/>
<path d="M762.3,525.3 L762.3,524.4 L762.5,523.5 L762.7,522.6 L762.9,521.8 L763.3,521.1 L763.7,520.4 L764.2,519.8 L764.7,519.2 L765.3,518.8 L765.9,518.4 L774.3,513.5 L775.1,513.2 L775.9,513.0 L776.7,512.8 L777.6,512.8 L778.4,512.9 L779.3,513.1 L780.2,513.4 L781.0,513.8 L781.9,514.3 L782.7,514.9 L783.5,515.6 L784.2,516.3 L784.9,517.2 L785.5,518.1 L786.1,519.0 L786.6,520.0 L787.0,521.1 L787.3,522.2 L787.6,523.3 L787.8,524.4 L787.9,525.5 L787.9,526.5 L787.8,527.6 L787.7,528.6 L787.4,529.6 L787.1,530.5 L786.7,531.4 L786.2,532.2 L785.7,532.9 L785.1,533.5 L784.4,534.0 L783.7,534.5 L782.9,534.8 L782.1,535.0 L772.7,537.1 L772.0,537.2 L771.3,537.2 L770.5,537.1 L769.7,537.0 L769.0,536.7 L768.2,536.4 L767.5,535.9 L766.8,535.4 L766.1,534.8 L765.5,534.2 L764.9,533.4 L764.3,532.6 L763.8,531.8 L763.4,530.9 L763.0,530.0 L762.7,529.1 L762.5,528.1 L762.4,527.2 L762.3,526.2 Z" fill="#fff" stroke="#000" stroke-width="2.3" stroke-linejoin="round" />
<line x1="769.2" y1="517.8" x2="778.0" y2="512.9" stroke="#000" stroke-width="1.8"/>
<line x1="772.9" y1="519.3" x2="782.3" y2="514.6" stroke="#000" stroke-width="1.8"/>
<line x1="775.9" y1="522.8" x2="785.8" y2="518.6" stroke="#000" stroke-width="1.8"/>
<line x1="777.6" y1="527.3" x2="787.7" y2="523.8" stroke="#000" stroke-width="1.8"/>
<line x1="777.5" y1="531.9" x2="787.6" y2="529.1" stroke="#000" stroke-width="1.8"/>
<line x1="775.6" y1="535.5" x2="785.4" y2="533.2" stroke="#000" stroke-width="1.8"/>
<ellipse cx="770.0" cy="527.5" rx="7.4" ry="10.0" transform="rotate(-20 770 527.5)" fill="#fff" stroke="#000" stroke-width="2.4"/>
<ellipse cx="770.0" cy="527.5" rx="5.0" ry="7.2" transform="rotate(-20 770 527.5)" fill="#fff" stroke="#000" stroke-width="1.9"/>
<ellipse cx="801.0" cy="509.3" rx="6.3" ry="9.9" transform="rotate(-20 801 509.3)" fill="#fff" stroke="#000" stroke-width="1.9"/>
<path d="M683,609 L685,607.2 L687,608 L690.5,608.2 L691.4,611 L690,613.8 L687.5,613.9 L684,610.5 Z" fill="#000" stroke="#000" stroke-width="0.8" stroke-linejoin="round"/>
<circle cx="687.9" cy="611" r="0.95" fill="#fff"/>
<path d="M208.8,344.2 L210.9,336.3 L216.6,333.6 L222.1,334.6 L225.7,339.8 L223.6,347.7 L217.9,350.4 L212.4,349.4 Z" fill="#fff" stroke="#000" stroke-width="1.75" stroke-linejoin="round" />
<path d="M217.9,350.4 L214.3,345.2 L216.4,337.3 L222.1,334.6 L225.7,339.8 L223.6,347.7 Z" fill="#fff" stroke="#000" stroke-width="1.75" stroke-linejoin="round" />
<line x1="217.9" y1="350.4" x2="212.4" y2="349.4" stroke="#000" stroke-width="1.4000000000000001"/>
<line x1="214.3" y1="345.2" x2="208.8" y2="344.2" stroke="#000" stroke-width="1.4000000000000001"/>
<line x1="216.4" y1="337.3" x2="210.9" y2="336.3" stroke="#000" stroke-width="1.4000000000000001"/>
<line x1="222.1" y1="334.6" x2="216.6" y2="333.6" stroke="#000" stroke-width="1.4000000000000001"/>
<line x1="225.7" y1="339.8" x2="220.2" y2="338.8" stroke="#000" stroke-width="1.4000000000000001"/>
<line x1="223.6" y1="347.7" x2="218.1" y2="346.7" stroke="#000" stroke-width="1.4000000000000001"/>
<path d="M217.9,350.4 L214.3,345.2 L216.4,337.3 L222.1,334.6 L225.7,339.8 L223.6,347.7 Z" fill="#fff" stroke="#000" stroke-width="1.75" stroke-linejoin="round" />
<ellipse cx="220.0" cy="342.5" rx="2.4" ry="3.4" transform="rotate(15 220 342.5)" fill="#fff" stroke="#000" stroke-width="1.75"/>
<path d="M221.4,357.7 L221.4,356.3 L221.6,354.8 L221.8,353.3 L222.2,351.8 L222.7,350.4 L223.3,348.9 L223.9,347.6 L224.7,346.2 L225.6,345.0 L226.5,343.8 L227.5,342.7 L228.6,341.7 L229.7,340.8 L230.8,340.1 L232.0,339.5 L233.2,339.0 L234.3,338.6 L235.5,338.4 L236.7,338.4 L239.2,338.4 L240.3,338.5 L241.4,338.7 L242.4,339.1 L243.4,339.6 L244.3,340.2 L245.1,341.0 L245.9,341.9 L246.5,342.9 L247.0,344.0 L247.5,345.2 L247.8,346.5 L248.0,347.9 L248.1,349.3 L248.1,350.7 L247.9,352.2 L247.7,353.7 L247.3,355.2 L246.8,356.6 L246.2,358.1 L245.6,359.4 L244.8,360.8 L243.9,362.0 L243.0,363.2 L242.0,364.3 L240.9,365.3 L239.8,366.2 L238.7,366.9 L237.5,367.5 L236.3,368.0 L235.2,368.4 L234.0,368.6 L232.8,368.6 L230.3,368.6 L229.2,368.5 L228.1,368.3 L227.1,367.9 L226.1,367.4 L225.2,366.8 L224.4,366.0 L223.6,365.1 L223.0,364.1 L222.5,363.0 L222.0,361.8 L221.7,360.5 L221.5,359.1 Z" fill="#fff" stroke="#000" stroke-width="1.75" stroke-linejoin="round" />
<ellipse cx="236.0" cy="353.5" rx="11.2" ry="15.8" transform="rotate(24 236 353.5)" fill="#fff" stroke="#000" stroke-width="1.75"/>
<ellipse cx="236.0" cy="354.0" rx="2.6" ry="3.4" transform="rotate(24 236.0 354.0)" fill="#000"/>
<path d="M249.7,363.9 L249.8,363.1 L249.9,362.3 L250.1,361.4 L250.3,360.6 L250.6,359.9 L250.9,359.1 L251.3,358.4 L251.7,357.7 L252.2,357.1 L252.7,356.5 L253.3,355.9 L253.8,355.5 L254.4,355.1 L255.0,354.7 L255.6,354.5 L256.2,354.3 L256.9,354.2 L257.5,354.2 L258.1,354.3 L258.6,354.4 L262.6,355.9 L263.2,356.1 L263.7,356.4 L264.2,356.8 L264.6,357.2 L265.0,357.7 L265.4,358.3 L265.6,358.9 L265.9,359.6 L266.1,360.3 L266.2,361.1 L266.3,361.8 L266.3,362.6 L266.2,363.4 L266.1,364.2 L265.9,365.1 L265.7,365.9 L265.4,366.6 L265.1,367.4 L264.7,368.1 L264.3,368.8 L263.8,369.4 L263.3,370.0 L262.7,370.6 L262.2,371.0 L261.6,371.4 L261.0,371.8 L260.4,372.0 L259.8,372.2 L259.1,372.3 L258.5,372.3 L257.9,372.2 L257.4,372.1 L253.4,370.6 L252.8,370.4 L252.3,370.1 L251.8,369.7 L251.4,369.3 L251.0,368.8 L250.6,368.2 L250.3,367.6 L250.1,366.9 L249.9,366.2 L249.8,365.4 L249.7,364.7 Z" fill="#fff" stroke="#000" stroke-width="1.75" stroke-linejoin="round" />
<ellipse cx="260.0" cy="364.0" rx="6.0" ry="8.5" transform="rotate(18 260 364)" fill="#fff" stroke="#000" stroke-width="1.75"/>
<ellipse cx="260.0" cy="364.0" rx="2.0" ry="2.7" transform="rotate(18 260 364)" fill="#fff" stroke="#000" stroke-width="1.75"/>
<path d="M264.5,376.1 L264.6,374.5 L264.8,372.9 L265.1,371.3 L265.6,369.8 L266.1,368.3 L266.8,366.8 L267.6,365.4 L268.4,364.1 L269.3,362.8 L270.3,361.7 L271.4,360.7 L272.5,359.8 L273.7,359.0 L274.9,358.4 L276.1,357.9 L277.3,357.6 L278.6,357.4 L279.8,357.4 L281.0,357.5 L282.1,357.8 L287.1,359.8 L288.2,360.2 L289.2,360.8 L290.2,361.6 L291.1,362.4 L291.9,363.4 L292.6,364.5 L293.2,365.7 L293.7,367.0 L294.1,368.4 L294.3,369.9 L294.5,371.4 L294.5,372.9 L294.4,374.5 L294.2,376.1 L293.9,377.7 L293.4,379.2 L292.9,380.7 L292.2,382.2 L291.4,383.6 L290.6,384.9 L289.7,386.2 L288.7,387.3 L287.6,388.3 L286.5,389.2 L285.3,390.0 L284.1,390.6 L282.9,391.1 L281.7,391.4 L280.4,391.6 L279.2,391.6 L278.0,391.5 L276.9,391.2 L271.9,389.2 L270.8,388.8 L269.8,388.2 L268.8,387.4 L267.9,386.6 L267.1,385.6 L266.4,384.5 L265.8,383.3 L265.3,382.0 L264.9,380.6 L264.7,379.1 L264.5,377.6 Z" fill="#fff" stroke="#000" stroke-width="1.75" stroke-linejoin="round" />
<ellipse cx="282.0" cy="375.5" rx="12.0" ry="16.5" transform="rotate(18 282 375.5)" fill="#fff" stroke="#000" stroke-width="1.75"/>
<ellipse cx="282.0" cy="376.0" rx="5.5" ry="7.5" transform="rotate(18 282 376.0)" fill="#fff" stroke="#000" stroke-width="1.75"/>
<ellipse cx="282.0" cy="376.0" rx="3.4" ry="5.2" transform="rotate(18 282 376)" fill="#fff" stroke="#000" stroke-width="1.6"/>
<path d="M292.6,393.3 L292.6,391.9 L292.8,390.4 L293.1,389.0 L293.5,387.6 L294.0,386.2 L294.6,384.9 L295.3,383.6 L296.1,382.4 L297.0,381.3 L297.9,380.2 L298.9,379.3 L299.9,378.5 L300.9,377.8 L302.0,377.2 L303.2,376.8 L304.3,376.5 L305.4,376.4 L306.5,376.3 L307.6,376.5 L308.6,376.7 L309.6,377.1 L311.6,378.1 L312.6,378.7 L313.5,379.3 L314.3,380.1 L315.0,381.0 L315.7,382.0 L316.2,383.1 L316.7,384.3 L317.0,385.6 L317.3,386.9 L317.4,388.3 L317.4,389.7 L317.4,391.1 L317.2,392.6 L316.9,394.0 L316.5,395.4 L316.0,396.8 L315.4,398.1 L314.7,399.4 L313.9,400.6 L313.0,401.7 L312.1,402.8 L311.1,403.7 L310.1,404.5 L309.1,405.2 L308.0,405.8 L306.8,406.2 L305.7,406.5 L304.6,406.6 L303.5,406.7 L302.4,406.5 L301.4,406.3 L300.4,405.9 L298.4,404.9 L297.4,404.3 L296.5,403.7 L295.7,402.9 L295.0,402.0 L294.3,401.0 L293.8,399.9 L293.3,398.7 L293.0,397.4 L292.7,396.1 L292.6,394.7 Z" fill="#fff" stroke="#000" stroke-width="2.0" stroke-linejoin="round" />
<ellipse cx="306.0" cy="392.0" rx="11.0" ry="15.0" transform="rotate(18 306 392)" fill="#fff" stroke="#000" stroke-width="2.0"/>
<ellipse cx="306.0" cy="392.5" rx="2.0" ry="2.6" transform="rotate(18 306.0 392.5)" fill="#000"/>
<path d="M294.3,399.0 L294.0,397.7 L293.7,396.4 L293.6,395.0 L293.6,393.6 L293.6,392.2 L293.8,390.7 L294.1,389.3 L294.5,387.9 L295.0,386.5 L295.6,385.2 L296.3,383.9 L297.1,382.7 L298.0,381.6 L298.9,380.5 L299.9,379.6 L300.9,378.8 L301.9,378.1 L303.0,377.5 L304.2,377.1 L305.3,376.8 L306.4,376.7 L307.5,376.6 L308.6,376.8 L309.6,377.0 L310.6,377.4 L311.6,378.0 L312.5,378.6 L313.3,379.4" fill="none" stroke="#000" stroke-width="2.6"/>
<path d="M315.0,408.5 L315.1,406.8 L315.3,405.0 L315.7,403.3 L316.2,401.6 L316.8,400.0 L317.5,398.4 L318.3,396.8 L319.3,395.4 L320.3,394.1 L321.4,392.8 L322.6,391.7 L323.9,390.7 L325.2,389.9 L326.5,389.2 L327.9,388.7 L329.2,388.4 L330.6,388.2 L332.0,388.2 L333.3,388.4 L334.6,388.7 L335.8,389.2 L341.3,391.4 L342.5,392.0 L343.6,392.8 L344.6,393.8 L345.5,394.9 L346.3,396.1 L346.9,397.4 L347.5,398.8 L348.0,400.4 L348.3,402.0 L348.4,403.6 L348.5,405.3 L348.4,407.0 L348.2,408.8 L347.8,410.5 L347.3,412.2 L346.7,413.8 L346.0,415.4 L345.2,417.0 L344.2,418.4 L343.2,419.7 L342.1,421.0 L340.9,422.1 L339.6,423.1 L338.3,423.9 L337.0,424.6 L335.6,425.1 L334.3,425.4 L332.9,425.6 L331.5,425.6 L330.2,425.4 L328.9,425.1 L327.7,424.6 L322.2,422.4 L321.0,421.8 L319.9,421.0 L318.9,420.0 L318.0,418.9 L317.2,417.7 L316.6,416.4 L316.0,415.0 L315.5,413.4 L315.2,411.8 L315.1,410.2 Z" fill="#fff" stroke="#000" stroke-width="1.75" stroke-linejoin="round" />
<ellipse cx="334.5" cy="408.0" rx="13.5" ry="18.0" transform="rotate(18 334.5 408)" fill="#fff" stroke="#000" stroke-width="1.75"/>
<ellipse cx="334.3" cy="408.5" rx="2.0" ry="2.6" transform="rotate(18 334.3 408.5)" fill="#000"/>
<path d="M344.0,425.6 L344.1,424.0 L344.3,422.4 L344.7,420.7 L345.1,419.1 L345.7,417.6 L346.4,416.1 L347.1,414.6 L348.0,413.2 L349.0,412.0 L350.0,410.8 L351.1,409.8 L352.3,408.8 L353.5,408.1 L354.8,407.4 L356.0,406.9 L357.3,406.6 L358.6,406.4 L359.8,406.4 L361.1,406.5 L362.3,406.8 L364.8,407.8 L365.9,408.3 L367.0,408.9 L368.0,409.6 L368.9,410.5 L369.7,411.6 L370.5,412.7 L371.1,414.0 L371.6,415.3 L372.0,416.7 L372.3,418.2 L372.5,419.8 L372.5,421.4 L372.4,423.0 L372.2,424.6 L371.8,426.3 L371.4,427.9 L370.8,429.4 L370.1,430.9 L369.4,432.4 L368.5,433.8 L367.5,435.0 L366.5,436.2 L365.4,437.2 L364.2,438.2 L363.0,438.9 L361.7,439.6 L360.5,440.1 L359.2,440.4 L357.9,440.6 L356.7,440.6 L355.4,440.5 L354.2,440.2 L351.7,439.2 L350.6,438.7 L349.5,438.1 L348.5,437.4 L347.6,436.5 L346.8,435.4 L346.0,434.3 L345.4,433.0 L344.9,431.7 L344.5,430.3 L344.2,428.8 L344.0,427.2 Z" fill="#fff" stroke="#000" stroke-width="1.75" stroke-linejoin="round" />
<ellipse cx="359.5" cy="424.0" rx="12.5" ry="17.0" transform="rotate(18 359.5 424)" fill="#fff" stroke="#000" stroke-width="1.75"/>
<ellipse cx="359.0" cy="424.5" rx="2.0" ry="2.6" transform="rotate(18 359.0 424.5)" fill="#000"/>
<ellipse cx="376.5" cy="433.0" rx="3.3" ry="4.3" transform="rotate(18 376.5 433)" fill="#fff" stroke="#000" stroke-width="1.8"/>
<path d="M380.6,444.9 L380.7,443.8 L380.8,442.6 L381.1,441.5 L381.4,440.4 L381.8,439.3 L382.3,438.2 L382.8,437.2 L383.4,436.2 L384.1,435.3 L384.8,434.5 L385.6,433.7 L386.4,433.1 L387.2,432.5 L388.1,432.1 L389.0,431.7 L389.8,431.5 L390.7,431.3 L391.6,431.3 L392.4,431.4 L393.2,431.6 L398.2,433.6 L399.0,433.9 L399.7,434.3 L400.4,434.8 L401.0,435.5 L401.6,436.2 L402.1,437.0 L402.5,437.8 L402.8,438.8 L403.1,439.8 L403.3,440.8 L403.4,441.9 L403.4,443.1 L403.3,444.2 L403.2,445.4 L402.9,446.5 L402.6,447.6 L402.2,448.7 L401.7,449.8 L401.2,450.8 L400.6,451.8 L399.9,452.7 L399.2,453.5 L398.4,454.3 L397.6,454.9 L396.8,455.5 L395.9,455.9 L395.0,456.3 L394.2,456.5 L393.3,456.7 L392.4,456.7 L391.6,456.6 L390.8,456.4 L385.8,454.4 L385.0,454.1 L384.3,453.7 L383.6,453.2 L383.0,452.5 L382.4,451.8 L381.9,451.0 L381.5,450.2 L381.2,449.2 L380.9,448.2 L380.7,447.2 L380.6,446.1 Z" fill="#fff" stroke="#000" stroke-width="1.75" stroke-linejoin="round" />
<ellipse cx="394.5" cy="445.0" rx="8.5" ry="12.0" transform="rotate(18 394.5 445)" fill="#fff" stroke="#000" stroke-width="1.75"/>
<ellipse cx="394.5" cy="445.5" rx="1.8" ry="2.3" transform="rotate(18 394.5 445.5)" fill="#000"/>
<path d="M404.5,460.7 L404.6,459.0 L404.8,457.2 L405.2,455.5 L405.7,453.8 L406.3,452.2 L407.0,450.6 L407.8,449.0 L408.8,447.6 L409.8,446.3 L410.9,445.0 L412.1,443.9 L413.4,442.9 L414.7,442.1 L416.0,441.4 L417.4,440.9 L418.7,440.6 L420.1,440.4 L421.5,440.4 L422.8,440.6 L424.1,440.9 L428.1,442.4 L429.3,442.9 L430.5,443.5 L431.6,444.3 L432.6,445.3 L433.5,446.4 L434.3,447.6 L434.9,448.9 L435.5,450.3 L436.0,451.9 L436.3,453.5 L436.4,455.1 L436.5,456.8 L436.4,458.5 L436.2,460.3 L435.8,462.0 L435.3,463.7 L434.7,465.3 L434.0,466.9 L433.2,468.5 L432.2,469.9 L431.2,471.2 L430.1,472.5 L428.9,473.6 L427.6,474.6 L426.3,475.4 L425.0,476.1 L423.6,476.6 L422.3,476.9 L420.9,477.1 L419.5,477.1 L418.2,476.9 L416.9,476.6 L412.9,475.1 L411.7,474.6 L410.5,474.0 L409.4,473.2 L408.4,472.2 L407.5,471.1 L406.7,469.9 L406.1,468.6 L405.5,467.2 L405.0,465.6 L404.7,464.0 L404.6,462.4 Z" fill="#fff" stroke="#000" stroke-width="1.75" stroke-linejoin="round" />
<ellipse cx="422.5" cy="459.5" rx="13.5" ry="18.0" transform="rotate(18 422.5 459.5)" fill="#fff" stroke="#000" stroke-width="1.75"/>
<ellipse cx="423.0" cy="460.0" rx="8.8" ry="12.2" transform="rotate(18 423 460)" fill="#fff" stroke="#000" stroke-width="1.8"/>
<path d="M426.7,470.0 L426.0,470.6 L425.2,471.0 L424.5,471.3 L423.7,471.5 L423.0,471.7 L422.3,471.7 L421.5,471.6 L420.9,471.5 L420.2,471.2 L419.6,470.8 L419.0,470.4 L418.5,469.8 L418.0,469.2 L417.6,468.5 L417.3,467.7 L417.0,466.9 L416.8,466.0 L416.7,465.1 L416.6,464.1 L416.6,463.1 L416.7,462.1 L416.8,461.0 L417.1,460.0 L417.4,459.0 L417.7,458.0 L418.1,457.0 L418.6,456.1 L419.2,455.2 L419.7,454.4 L420.4,453.6 L421.0,453.0 L421.7,452.4" fill="none" stroke="#000" stroke-width="1.7"/>
<path d="M433.6,479.5 L433.6,477.8 L433.8,476.2 L434.2,474.6 L434.6,473.0 L435.2,471.4 L435.9,469.9 L436.7,468.5 L437.6,467.1 L438.6,465.8 L439.6,464.7 L440.8,463.6 L442.0,462.7 L443.2,462.0 L444.5,461.3 L445.8,460.8 L447.1,460.5 L448.4,460.4 L449.7,460.4 L451.0,460.5 L452.3,460.8 L455.3,461.8 L456.4,462.3 L457.6,462.9 L458.6,463.7 L459.6,464.6 L460.5,465.6 L461.2,466.8 L461.9,468.1 L462.5,469.4 L462.9,470.8 L463.2,472.4 L463.4,473.9 L463.4,475.5 L463.4,477.2 L463.2,478.8 L462.8,480.4 L462.4,482.0 L461.8,483.6 L461.1,485.1 L460.3,486.5 L459.4,487.9 L458.4,489.2 L457.4,490.3 L456.2,491.4 L455.0,492.3 L453.8,493.0 L452.5,493.7 L451.2,494.2 L449.9,494.5 L448.6,494.6 L447.3,494.6 L446.0,494.5 L444.7,494.2 L441.7,493.2 L440.6,492.7 L439.4,492.1 L438.4,491.3 L437.4,490.4 L436.5,489.4 L435.8,488.2 L435.1,486.9 L434.5,485.6 L434.1,484.2 L433.8,482.6 L433.6,481.1 Z" fill="#fff" stroke="#000" stroke-width="1.75" stroke-linejoin="round" />
<ellipse cx="450.0" cy="478.0" rx="13.0" ry="17.0" transform="rotate(18 450 478)" fill="#fff" stroke="#000" stroke-width="1.75"/>
<ellipse cx="448.3" cy="478.7" rx="1.8" ry="2.3" transform="rotate(18 448.3 478.7)" fill="#000"/>
<path d="M458,462 L465,466 L463,470" fill="none" stroke="#000" stroke-width="1.7"/>
<path d="M456.5,481.5 L483,497 L481,500.5 L454.5,485 Z" fill="#fff" stroke="#000" stroke-width="1.7" stroke-linejoin="round"/>
<path d="M474,491.5 L483,497 L481,500.5 L472,495 Z" fill="#000" stroke="#000" stroke-width="1.7" stroke-linejoin="round"/>
<circle cx="456" cy="483.2" r="2.6" fill="#000"/>
<path d="M199.8,334.3 L148.4,395 L268.5,464.4 M312,490.7 L444.6,564.4 L483.3,510" fill="none" stroke="#000" stroke-width="1.75" stroke-linejoin="miter"/>
<text x="233.6" y="481.8" font-size="11.9" textLength="89.3" lengthAdjust="spacingAndGlyphs">PISTON CUP KIT</text>
<line x1="454.6" y1="74.0" x2="492.0" y2="74.0" stroke="#000" stroke-width="1.85"/>
<line x1="452.8" y1="100.8" x2="490.0" y2="100.8" stroke="#000" stroke-width="1.85"/>
<line x1="452.8" y1="131.0" x2="490.0" y2="131.0" stroke="#000" stroke-width="1.85"/>
<line x1="586.4" y1="148.9" x2="623.4" y2="148.9" stroke="#000" stroke-width="1.85"/>
<line x1="528.0" y1="182.8" x2="600.3" y2="182.8" stroke="#000" stroke-width="1.85"/>
<line x1="489.0" y1="202.3" x2="578.8" y2="202.3" stroke="#000" stroke-width="1.85"/>
<line x1="414.4" y1="173.7" x2="414.4" y2="212.4" stroke="#000" stroke-width="1.85"/>
<line x1="373.1" y1="193.3" x2="373.1" y2="232.0" stroke="#000" stroke-width="1.85"/>
<line x1="318.0" y1="222.2" x2="318.0" y2="260.0" stroke="#000" stroke-width="1.85"/>
<line x1="273.5" y1="239.6" x2="273.5" y2="278.1" stroke="#000" stroke-width="1.85"/>
<line x1="672.3" y1="250.3" x2="672.3" y2="289.2" stroke="#000" stroke-width="1.85"/>
<line x1="711.9" y1="276.7" x2="711.9" y2="315.6" stroke="#000" stroke-width="1.85"/>
<line x1="458.0" y1="321.5" x2="516.8" y2="321.5" stroke="#000" stroke-width="1.85"/>
<line x1="547.8" y1="380.3" x2="547.8" y2="409.4" stroke="#000" stroke-width="1.85"/>
<line x1="718.7" y1="424.5" x2="718.7" y2="463.7" stroke="#000" stroke-width="1.85"/>
<line x1="288.0" y1="357.7" x2="307.7" y2="331.6" stroke="#000" stroke-width="1.85"/>
<line x1="317.5" y1="373.0" x2="336.0" y2="347.9" stroke="#000" stroke-width="1.85"/>
<line x1="343.6" y1="387.1" x2="362.1" y2="362.1" stroke="#000" stroke-width="1.85"/>
<line x1="371.9" y1="403.2" x2="391.2" y2="377.4" stroke="#000" stroke-width="1.85"/>
<line x1="402.3" y1="424.4" x2="421.6" y2="399.5" stroke="#000" stroke-width="1.85"/>
<line x1="434.5" y1="439.1" x2="453.0" y2="414.2" stroke="#000" stroke-width="1.85"/>
<line x1="463.0" y1="456.6" x2="481.5" y2="431.7" stroke="#000" stroke-width="1.85"/>
<line x1="473.2" y1="481.5" x2="492.6" y2="456.6" stroke="#000" stroke-width="1.85"/>
<line x1="192.3" y1="376.9" x2="210.9" y2="351.4" stroke="#000" stroke-width="1.85"/>
<line x1="207.4" y1="388.0" x2="222.0" y2="369.0" stroke="#000" stroke-width="1.85"/>
<line x1="233.2" y1="400.3" x2="252.0" y2="374.5" stroke="#000" stroke-width="1.85"/>
<line x1="350.7" y1="467.7" x2="370.0" y2="443.7" stroke="#000" stroke-width="1.85"/>
<line x1="563.3" y1="502.0" x2="588.4" y2="502.0" stroke="#000" stroke-width="1.85"/>
<line x1="814.4" y1="508.7" x2="852.0" y2="508.7" stroke="#000" stroke-width="1.85"/>
<line x1="787.1" y1="537.0" x2="830.0" y2="557.9" stroke="#000" stroke-width="1.85"/>
<line x1="511.9" y1="547.7" x2="548.9" y2="547.7" stroke="#000" stroke-width="1.85"/>
<line x1="752.0" y1="558.5" x2="794.5" y2="578.4" stroke="#000" stroke-width="1.85"/>
<line x1="472.7" y1="599.6" x2="509.7" y2="599.6" stroke="#000" stroke-width="1.85"/>
<line x1="712.8" y1="582.0" x2="755.7" y2="602.5" stroke="#000" stroke-width="1.85"/>
<line x1="695.6" y1="615.5" x2="718.0" y2="626.0" stroke="#000" stroke-width="1.85"/>
<line x1="636.0" y1="642.0" x2="656.7" y2="642.0" stroke="#000" stroke-width="1.85"/>
<line x1="664.2" y1="618.6" x2="700.3" y2="637.0" stroke="#000" stroke-width="1.85"/>
<line x1="595.7" y1="644.2" x2="644.7" y2="668.2" stroke="#000" stroke-width="1.85"/>
<line x1="472.7" y1="667.0" x2="509.7" y2="667.0" stroke="#000" stroke-width="1.85"/>
<line x1="558.7" y1="662.7" x2="602.2" y2="686.7" stroke="#000" stroke-width="1.85"/>
<text x="443.5" y="79.0" font-size="12" text-anchor="middle">1</text>
<text x="443.0" y="104.0" font-size="12" text-anchor="middle">2</text>
<text x="443.0" y="137.0" font-size="12" text-anchor="middle">3</text>
<text x="637.0" y="152.5" font-size="12" text-anchor="middle">9</text>
<text x="611.3" y="186.6" font-size="12" text-anchor="middle">6</text>
<text x="592.0" y="206.0" font-size="12" text-anchor="middle">8</text>
<text x="414.6" y="165.7" font-size="12" text-anchor="middle">7</text>
<text x="372.4" y="187.0" font-size="12" text-anchor="middle">6</text>
<text x="318.3" y="213.9" font-size="12" text-anchor="middle">5</text>
<text x="273.6" y="233.3" font-size="12" text-anchor="middle">4</text>
<text x="672.6" y="245.0" font-size="12" text-anchor="middle">22</text>
<text x="711.8" y="272.9" font-size="12" text-anchor="middle">24</text>
<text x="447.0" y="326.6" font-size="12" text-anchor="middle">10</text>
<text x="547.0" y="374.7" font-size="12" text-anchor="middle">24</text>
<text x="719.0" y="420.5" font-size="12" text-anchor="middle">9</text>
<text x="314.7" y="326.1" font-size="12" text-anchor="middle">27</text>
<text x="342.3" y="342.5" font-size="12" text-anchor="middle">28</text>
<text x="370.1" y="357.7" font-size="12" text-anchor="middle">29</text>
<text x="397.5" y="373.0" font-size="12" text-anchor="middle">30</text>
<text x="430.4" y="392.1" font-size="12" text-anchor="middle">32</text>
<text x="459.8" y="409.6" font-size="12" text-anchor="middle">33</text>
<text x="487.0" y="427.1" font-size="12" text-anchor="middle">34</text>
<text x="498.1" y="452.9" font-size="12" text-anchor="middle">12</text>
<text x="184.5" y="389.0" font-size="12" text-anchor="middle">11</text>
<text x="202.2" y="399.5" font-size="12" text-anchor="middle">25</text>
<text x="228.8" y="412.8" font-size="12" text-anchor="middle">26</text>
<text x="347.0" y="480.6" font-size="12" text-anchor="middle">31</text>
<text x="553.1" y="507.0" font-size="12" text-anchor="middle">15</text>
<text x="869.0" y="513.5" font-size="12" text-anchor="middle">17</text>
<text x="842.1" y="566.9" font-size="12" text-anchor="middle">18</text>
<text x="495.9" y="552.2" font-size="12" text-anchor="middle">13</text>
<text x="806.3" y="588.9" font-size="12" text-anchor="middle">21</text>
<text x="463.4" y="604.0" font-size="12" text-anchor="middle">23</text>
<text x="767.2" y="612.0" font-size="12" text-anchor="middle">20</text>
<text x="728.5" y="637.0" font-size="12" text-anchor="middle">22</text>
<text x="668.3" y="646.5" font-size="12" text-anchor="middle">16</text>
<text x="709.2" y="649.6" font-size="12" text-anchor="middle">14</text>
<text x="651.8" y="678.0" font-size="12" text-anchor="middle">19</text>
<text x="460.0" y="671.4" font-size="12" text-anchor="middle">17</text>
<text x="610.4" y="695.4" font-size="12" text-anchor="middle">18</text>
</svg>
<div class="box"></div>
<div class="hl"></div>
<div class="vl"></div>
<div class="h" style="left:57px">REF</div>
<div class="h" style="left:216px">DESCRIPTION</div>
<div class="h" style="left:489px">PART #</div>
<div class="h" style="left:614px">REF</div>
<div class="h" style="left:773px">DESCRIPTION</div>
<div class="h" style="left:1046px">PART #</div>
<div class="r" style="top:754.8px"><span class="ref" style="left:77px">1</span><span class="d" style="left:123px">CAM OIL PLUG</span><span class="p" style="left:462px">1040 000 002</span></div>
<div class="r" style="top:780.2px"><span class="ref" style="left:77px">2</span><span class="d" style="left:123px">CAM OILER FELT</span><span class="p" style="left:462px">2010 000 002</span></div>
<div class="r" style="top:805.6px"><span class="ref" style="left:77px">3</span><span class="d" style="left:123px">CAM OILER BRACKET</span><span class="p" style="left:462px">1400 350 030</span></div>
<div class="r" style="top:831.0px"><span class="ref" style="left:77px">4</span><span class="d" style="left:123px">GREASE FITTING</span><span class="p" style="left:462px">1400 350 040</span></div>
<div class="r" style="top:856.4px"><span class="ref" style="left:77px">5</span><span class="d" style="left:123px">CAM ROLLER BOLT</span><span class="p" style="left:462px">1098 000 002</span></div>
<div class="r" style="top:881.8px"><span class="ref" style="left:77px">6</span><span class="d" style="left:123px">SPACER-CAM ROLLER</span><span class="p" style="left:462px">1098 000 003</span></div>
<div class="r" style="top:907.2px"><span class="ref" style="left:77px">7</span><span class="d" style="left:123px">BUSHING CAM ROLLER</span><span class="p" style="left:462px">1540 000 003</span></div>
<div class="r" style="top:932.6px"><span class="ref" style="left:77px">8</span><span class="d" style="left:123px">CAM ROLLER BEARING</span><span class="p" style="left:462px">1510 000 003</span></div>
<div class="r" style="top:958.0px"><span class="ref" style="left:77px"></span><span class="d" style="left:123px">CAM ROLLER BEARING KIT (REF# 4-9)</span><span class="p" style="left:462px">1400 350 080K</span></div>
<div class="r" style="top:983.4px"><span class="ref" style="left:77px">9</span><span class="d" style="left:123px">FLEX NUT</span><span class="p" style="left:462px">1020 000 021</span></div>
<div class="r" style="top:1008.8px"><span class="ref" style="left:77px">10</span><span class="d" style="left:123px">ROCKER ARM -CAM</span><span class="p" style="left:462px">1400 350 100</span></div>
<div class="r" style="top:1034.2px"><span class="ref" style="left:77px">11</span><span class="d" style="left:123px">NUT</span><span class="p" style="left:462px">1400 350 110</span></div>
<div class="r" style="top:1059.6px"><span class="ref" style="left:77px">12</span><span class="d" style="left:123px">STUD-PISTON ROD</span><span class="p" style="left:462px">1400 350 120</span></div>
<div class="r" style="top:1085.0px"><span class="ref" style="left:77px">13</span><span class="d" style="left:123px">PISTON ROD</span><span class="p" style="left:462px">1400 350 130</span></div>
<div class="r" style="top:1110.4px"><span class="ref" style="left:77px">14</span><span class="d" style="left:123px">PISTON ROD BEARING HOUSING</span><span class="p" style="left:462px">1400 350 140</span></div>
<div class="r" style="top:1135.8px"><span class="ref" style="left:77px">15</span><span class="d" style="left:123px">HEX BOLT</span><span class="p" style="left:462px">1010 000 080</span></div>
<div class="r" style="top:1161.2px"><span class="ref" style="left:77px">16</span><span class="d" style="left:123px">LOCK NUT</span><span class="p" style="left:462px">1020 000 018</span></div>
<div class="r" style="top:1186.6px"><span class="ref" style="left:77px">17</span><span class="d" style="left:123px">O RING</span><span class="p" style="left:462px">2020 000 003</span></div>
<div class="r" style="top:1212.0px"><span class="ref" style="left:77px">18</span><span class="d" style="left:123px">TAPERED BEARING</span><span class="p" style="left:462px">1520 000 002</span></div>
<div class="r" style="top:1237.4px"><span class="ref" style="left:77px"></span><span class="d" style="left:123px">TAPERED BEARING KIT (REF# 17-21)</span><span class="p" style="left:462px">1400 350 180K</span></div>
<div class="r" style="top:1262.8px"><span class="ref" style="left:77px">19</span><span class="d" style="left:123px">DOUBLE RACE</span><span class="p" style="left:462px">1530 000 002</span></div>
<div class="r" style="top:1288.2px"><span class="ref" style="left:77px">20</span><span class="d" style="left:123px">BUSHING</span><span class="p" style="left:462px">1540 000 001</span></div>
<div class="r" style="top:1313.6px"><span class="ref" style="left:77px">21</span><span class="d" style="left:123px">CRUSH RING</span><span class="p" style="left:462px">1098 000 001</span></div>
<div class="r" style="top:1339.0px"><span class="ref" style="left:77px">22</span><span class="d" style="left:123px">GREASE FITTING</span><span class="p" style="left:462px">3598 000 002</span></div>
<div class="r" style="top:1364.4px"><span class="ref" style="left:77px">23</span><span class="d" style="left:123px">HEX BOLT</span><span class="p" style="left:462px">1400 350 230</span></div>
<div class="r" style="top:1389.8px"><span class="ref" style="left:77px">24</span><span class="d" style="left:123px">BRONZE BUSHING</span><span class="p" style="left:462px">1540 000 002</span></div>
<div class="r" style="top:1415.2px"><span class="ref" style="left:77px">25</span><span class="d" style="left:123px">COMPRESSION WASHER 3-3/4”</span><span class="p" style="left:462px">1400 350 250</span></div>
<div class="r" style="top:1440.6px"><span class="ref" style="left:77px">25</span><span class="d" style="left:123px">COMPRESSION WASHER 3-1/2”</span><span class="p" style="left:462px">1400 350 251</span></div>
<div class="r" style="top:1466.0px"><span class="ref" style="left:77px">25</span><span class="d" style="left:123px">COMPRESSION WASHER 2-3/4”</span><span class="p" style="left:462px">1400 350 252</span></div>
<div class="r" style="top:754.8px"><span class="ref" style="left:634px">26</span><span class="d" style="left:680px">EXPANDER SPACER</span><span class="p" style="left:1019px">1400 350 260</span></div>
<div class="r" style="top:780.2px"><span class="ref" style="left:634px">26</span><span class="d" style="left:680px">EXPANDER SPACER 2-3/4”</span><span class="p" style="left:1019px">1400 350 261</span></div>
<div class="r" style="top:805.6px"><span class="ref" style="left:634px">27</span><span class="d" style="left:680px">EXPANDER 3-3/4”</span><span class="p" style="left:1019px">1400 350 270</span></div>
<div class="r" style="top:831.0px"><span class="ref" style="left:634px">27</span><span class="d" style="left:680px">EXPANDER 3-1/2”</span><span class="p" style="left:1019px">1400 350 271</span></div>
<div class="r" style="top:856.4px"><span class="ref" style="left:634px">27</span><span class="d" style="left:680px">EXPANDER 2-3/4”</span><span class="p" style="left:1019px">1400 350 272</span></div>
<div class="r" style="top:881.8px"><span class="ref" style="left:634px">28</span><span class="d" style="left:680px">EXPANDER WASHER 3-3/4”</span><span class="p" style="left:1019px">1400 350 280</span></div>
<div class="r" style="top:907.2px"><span class="ref" style="left:634px">28</span><span class="d" style="left:680px">EXPANDER WASHER 3-1/2”</span><span class="p" style="left:1019px">1400 350 281</span></div>
<div class="r" style="top:932.6px"><span class="ref" style="left:634px">28</span><span class="d" style="left:680px">EXPANDER WASHER 2-3/4”</span><span class="p" style="left:1019px">1400 350 282</span></div>
<div class="r" style="top:958.0px"><span class="ref" style="left:634px">29</span><span class="d" style="left:680px">PISTON CUP 3-3/4”</span><span class="p" style="left:1019px">1400 350 290</span></div>
<div class="r" style="top:983.4px"><span class="ref" style="left:634px"></span><span class="d" style="left:680px">PISTON CUP KIT 3-3/4”</span><span class="p" style="left:1019px">1400 350 290K</span></div>
<div class="r" style="top:1008.8px"><span class="ref" style="left:634px"></span><span class="d" style="left:680px">INCLUDES 11, 12, 25-34</span><span class="p" style="left:1019px"></span></div>
<div class="r" style="top:1034.2px"><span class="ref" style="left:634px">29</span><span class="d" style="left:680px">PISTON CUP 3-1/2”</span><span class="p" style="left:1019px">1400 350 291</span></div>
<div class="r" style="top:1059.6px"><span class="ref" style="left:634px"></span><span class="d" style="left:680px">PISTON CUP KIT 3-1/2”</span><span class="p" style="left:1019px">1400 350 291K</span></div>
<div class="r" style="top:1085.0px"><span class="ref" style="left:634px"></span><span class="d" style="left:680px">INCLUDES 11, 12, 25-34</span><span class="p" style="left:1019px"></span></div>
<div class="r" style="top:1110.4px"><span class="ref" style="left:634px">29</span><span class="d" style="left:680px">PISTON CUP 2-3/4”</span><span class="p" style="left:1019px">1400 350 292</span></div>
<div class="r" style="top:1135.8px"><span class="ref" style="left:634px"></span><span class="d" style="left:680px">PISTON CUP KIT 2-3/4”</span><span class="p" style="left:1019px">1400 350 292K</span></div>
<div class="r" style="top:1161.2px"><span class="ref" style="left:634px"></span><span class="d" style="left:680px">INCLUDES 11, 12, 25-34</span><span class="p" style="left:1019px"></span></div>
<div class="r" style="top:1186.6px"><span class="ref" style="left:634px">30</span><span class="d" style="left:680px">BACK UP WASHER 3-3/4”</span><span class="p" style="left:1019px">1400 350 300</span></div>
<div class="r" style="top:1212.0px"><span class="ref" style="left:634px">30</span><span class="d" style="left:680px">BACK UP WASHER 3-1/2</span><span class="p" style="left:1019px">1400 350 301</span></div>
<div class="r" style="top:1237.4px"><span class="ref" style="left:634px">30</span><span class="d" style="left:680px">BACK UP WASHER 2-3/4”</span><span class="p" style="left:1019px">1400 350 302</span></div>
<div class="r" style="top:1262.8px"><span class="ref" style="left:634px">31</span><span class="d" style="left:680px">O-RING SEAL</span><span class="p" style="left:1019px">1400 350 310</span></div>
<div class="r" style="top:1288.2px"><span class="ref" style="left:634px">32</span><span class="d" style="left:680px">FELT SPACER</span><span class="p" style="left:1019px">1400 350 320</span></div>
<div class="r" style="top:1313.6px"><span class="ref" style="left:634px">32</span><span class="d" style="left:680px">FELT SPACER 2-3/4”</span><span class="p" style="left:1019px">1400 350 321</span></div>
<div class="r" style="top:1339.0px"><span class="ref" style="left:634px">33</span><span class="d" style="left:680px">OILER FELT 3-3/4”</span><span class="p" style="left:1019px">1400 350 330</span></div>
<div class="r" style="top:1364.4px"><span class="ref" style="left:634px">33</span><span class="d" style="left:680px">OILER FELT 3-1/2”</span><span class="p" style="left:1019px">1400 350 331</span></div>
<div class="r" style="top:1389.8px"><span class="ref" style="left:634px">33</span><span class="d" style="left:680px">OILER FELT &nbsp;2-3/4”</span><span class="p" style="left:1019px">1400 350 332</span></div>
<div class="r" style="top:1415.2px"><span class="ref" style="left:634px">34</span><span class="d" style="left:680px">OILER PLATE 3-3/4” OR 3-1/2”</span><span class="p" style="left:1019px">1400 350 340</span></div>
<div class="r" style="top:1440.6px"><span class="ref" style="left:634px">34</span><span class="d" style="left:680px">OILER PLATE &nbsp;2-3/4”</span><span class="p" style="left:1019px">1400 350 341</span></div>
</body></html>
